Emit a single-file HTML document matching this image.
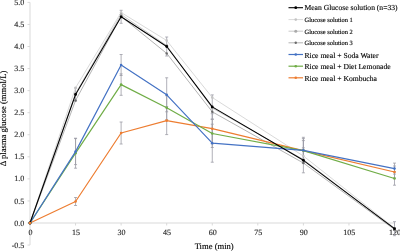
<!DOCTYPE html>
<html><head><meta charset="utf-8"><style>
html,body{margin:0;padding:0;background:#fff;}
svg{display:block;filter:blur(0.3px);}
text{font-family:"Liberation Serif",serif;fill:#000;text-rendering:geometricPrecision;stroke:#000;stroke-width:0.22px;stroke-opacity:0.6;}
.tk{font-size:8px;fill:#262626;stroke:#262626;}
</style></head><body>
<svg width="400" height="251" viewBox="0 0 400 251">
<line x1="30.0" y1="2.4" x2="30.0" y2="245.06" stroke="#d9d9d9" stroke-width="1"/>
<line x1="30.0" y1="223.0" x2="394.5" y2="223.0" stroke="#d9d9d9" stroke-width="1"/>
<line x1="27.5" y1="2.40" x2="30.0" y2="2.40" stroke="#d9d9d9" stroke-width="1"/>
<text x="24.3" y="5.00" text-anchor="end" class="tk">5.0</text>
<line x1="27.5" y1="24.46" x2="30.0" y2="24.46" stroke="#d9d9d9" stroke-width="1"/>
<text x="24.3" y="27.06" text-anchor="end" class="tk">4.5</text>
<line x1="27.5" y1="46.52" x2="30.0" y2="46.52" stroke="#d9d9d9" stroke-width="1"/>
<text x="24.3" y="49.12" text-anchor="end" class="tk">4.0</text>
<line x1="27.5" y1="68.58" x2="30.0" y2="68.58" stroke="#d9d9d9" stroke-width="1"/>
<text x="24.3" y="71.18" text-anchor="end" class="tk">3.5</text>
<line x1="27.5" y1="90.64" x2="30.0" y2="90.64" stroke="#d9d9d9" stroke-width="1"/>
<text x="24.3" y="93.24" text-anchor="end" class="tk">3.0</text>
<line x1="27.5" y1="112.70" x2="30.0" y2="112.70" stroke="#d9d9d9" stroke-width="1"/>
<text x="24.3" y="115.30" text-anchor="end" class="tk">2.5</text>
<line x1="27.5" y1="134.76" x2="30.0" y2="134.76" stroke="#d9d9d9" stroke-width="1"/>
<text x="24.3" y="137.36" text-anchor="end" class="tk">2.0</text>
<line x1="27.5" y1="156.82" x2="30.0" y2="156.82" stroke="#d9d9d9" stroke-width="1"/>
<text x="24.3" y="159.42" text-anchor="end" class="tk">1.5</text>
<line x1="27.5" y1="178.88" x2="30.0" y2="178.88" stroke="#d9d9d9" stroke-width="1"/>
<text x="24.3" y="181.48" text-anchor="end" class="tk">1.0</text>
<line x1="27.5" y1="200.94" x2="30.0" y2="200.94" stroke="#d9d9d9" stroke-width="1"/>
<text x="24.3" y="203.54" text-anchor="end" class="tk">0.5</text>
<line x1="27.5" y1="223.00" x2="30.0" y2="223.00" stroke="#d9d9d9" stroke-width="1"/>
<text x="24.3" y="225.60" text-anchor="end" class="tk">0.0</text>
<line x1="27.5" y1="245.06" x2="30.0" y2="245.06" stroke="#d9d9d9" stroke-width="1"/>
<text x="24.3" y="247.66" text-anchor="end" class="tk">-0.5</text>
<line x1="30.00" y1="223.0" x2="30.00" y2="225.5" stroke="#d9d9d9" stroke-width="1"/>
<text x="30.40" y="234.8" text-anchor="middle" class="tk">0</text>
<line x1="75.56" y1="223.0" x2="75.56" y2="225.5" stroke="#d9d9d9" stroke-width="1"/>
<text x="75.96" y="234.8" text-anchor="middle" class="tk">15</text>
<line x1="121.12" y1="223.0" x2="121.12" y2="225.5" stroke="#d9d9d9" stroke-width="1"/>
<text x="121.53" y="234.8" text-anchor="middle" class="tk">30</text>
<line x1="166.69" y1="223.0" x2="166.69" y2="225.5" stroke="#d9d9d9" stroke-width="1"/>
<text x="167.09" y="234.8" text-anchor="middle" class="tk">45</text>
<line x1="212.25" y1="223.0" x2="212.25" y2="225.5" stroke="#d9d9d9" stroke-width="1"/>
<text x="212.65" y="234.8" text-anchor="middle" class="tk">60</text>
<line x1="257.81" y1="223.0" x2="257.81" y2="225.5" stroke="#d9d9d9" stroke-width="1"/>
<text x="258.21" y="234.8" text-anchor="middle" class="tk">75</text>
<line x1="303.38" y1="223.0" x2="303.38" y2="225.5" stroke="#d9d9d9" stroke-width="1"/>
<text x="303.77" y="234.8" text-anchor="middle" class="tk">90</text>
<line x1="348.94" y1="223.0" x2="348.94" y2="225.5" stroke="#d9d9d9" stroke-width="1"/>
<text x="349.34" y="234.8" text-anchor="middle" class="tk">105</text>
<line x1="394.50" y1="223.0" x2="394.50" y2="225.5" stroke="#d9d9d9" stroke-width="1"/>
<text x="394.90" y="234.8" text-anchor="middle" class="tk">120</text>
<path d="M75.56 88.00V101.00M74.06 88.00h3M74.06 101.00h3" stroke="#9c9ca6" stroke-width="0.8" fill="none"/>
<path d="M121.12 10.30V23.30M119.62 10.30h3M119.62 23.30h3" stroke="#9c9ca6" stroke-width="0.8" fill="none"/>
<path d="M166.69 37.00V56.00M165.19 37.00h3M165.19 56.00h3" stroke="#9c9ca6" stroke-width="0.8" fill="none"/>
<path d="M212.25 94.90V118.90M210.75 94.90h3M210.75 118.90h3" stroke="#9c9ca6" stroke-width="0.8" fill="none"/>
<path d="M303.38 147.80V172.80M301.88 147.80h3M301.88 172.80h3" stroke="#9c9ca6" stroke-width="0.8" fill="none"/>
<path d="M394.50 221.70V235.70M393.00 221.70h3M393.00 235.70h3" stroke="#9c9ca6" stroke-width="0.8" fill="none"/>
<path d="M75.56 138.60V164.60M74.06 138.60h3M74.06 164.60h3" stroke="#9c9ca6" stroke-width="0.8" fill="none"/>
<path d="M121.12 54.50V75.50M119.62 54.50h3M119.62 75.50h3" stroke="#9c9ca6" stroke-width="0.8" fill="none"/>
<path d="M166.69 77.80V111.80M165.19 77.80h3M165.19 111.80h3" stroke="#9c9ca6" stroke-width="0.8" fill="none"/>
<path d="M212.25 124.20V162.20M210.75 124.20h3M210.75 162.20h3" stroke="#9c9ca6" stroke-width="0.8" fill="none"/>
<path d="M303.38 137.30V163.30M301.88 137.30h3M301.88 163.30h3" stroke="#9c9ca6" stroke-width="0.8" fill="none"/>
<path d="M394.50 163.10V174.10M393.00 163.10h3M393.00 174.10h3" stroke="#9c9ca6" stroke-width="0.8" fill="none"/>
<path d="M75.56 138.20V168.20M74.06 138.20h3M74.06 168.20h3" stroke="#9c9ca6" stroke-width="0.8" fill="none"/>
<path d="M121.12 73.90V95.30M119.62 73.90h3M119.62 95.30h3" stroke="#9c9ca6" stroke-width="0.8" fill="none"/>
<path d="M166.69 95.70V119.70M165.19 95.70h3M165.19 119.70h3" stroke="#9c9ca6" stroke-width="0.8" fill="none"/>
<path d="M212.25 119.50V147.50M210.75 119.50h3M210.75 147.50h3" stroke="#9c9ca6" stroke-width="0.8" fill="none"/>
<path d="M303.38 140.60V160.60M301.88 140.60h3M301.88 160.60h3" stroke="#9c9ca6" stroke-width="0.8" fill="none"/>
<path d="M394.50 171.80V185.20M393.00 171.80h3M393.00 185.20h3" stroke="#9c9ca6" stroke-width="0.8" fill="none"/>
<path d="M75.56 197.50V205.50M74.06 197.50h3M74.06 205.50h3" stroke="#9c9ca6" stroke-width="0.8" fill="none"/>
<path d="M121.12 122.00V144.00M119.62 122.00h3M119.62 144.00h3" stroke="#9c9ca6" stroke-width="0.8" fill="none"/>
<path d="M166.69 106.60V134.60M165.19 106.60h3M165.19 134.60h3" stroke="#9c9ca6" stroke-width="0.8" fill="none"/>
<path d="M212.25 113.70V143.70M210.75 113.70h3M210.75 143.70h3" stroke="#9c9ca6" stroke-width="0.8" fill="none"/>
<path d="M303.38 138.60V162.60M301.88 138.60h3M301.88 162.60h3" stroke="#9c9ca6" stroke-width="0.8" fill="none"/>
<path d="M394.50 166.00V178.00M393.00 166.00h3M393.00 178.00h3" stroke="#9c9ca6" stroke-width="0.8" fill="none"/>
<polyline points="30.00,223.00 75.56,87.80 121.12,12.50 166.69,40.50 212.25,97.50 303.38,156.00 394.50,228.00" fill="none" stroke="#cfcfcf" stroke-width="0.8" stroke-linejoin="round"/>
<circle cx="30.00" cy="223.00" r="1.3" fill="#c4c4c4"/>
<circle cx="75.56" cy="87.80" r="1.3" fill="#c4c4c4"/>
<circle cx="121.12" cy="12.50" r="1.3" fill="#c4c4c4"/>
<circle cx="166.69" cy="40.50" r="1.3" fill="#c4c4c4"/>
<circle cx="212.25" cy="97.50" r="1.3" fill="#c4c4c4"/>
<circle cx="303.38" cy="156.00" r="1.3" fill="#c4c4c4"/>
<circle cx="394.50" cy="228.00" r="1.3" fill="#c4c4c4"/>
<polyline points="30.00,223.00 75.56,93.50 121.12,14.50 166.69,45.50 212.25,108.00 303.38,159.50 394.50,228.80" fill="none" stroke="#bdbdbd" stroke-width="0.8" stroke-linejoin="round"/>
<circle cx="30.00" cy="223.00" r="1.5" fill="#aaaaaa"/>
<circle cx="75.56" cy="93.50" r="1.5" fill="#aaaaaa"/>
<circle cx="121.12" cy="14.50" r="1.5" fill="#aaaaaa"/>
<circle cx="166.69" cy="45.50" r="1.5" fill="#aaaaaa"/>
<circle cx="212.25" cy="108.00" r="1.5" fill="#aaaaaa"/>
<circle cx="303.38" cy="159.50" r="1.5" fill="#aaaaaa"/>
<circle cx="394.50" cy="228.80" r="1.5" fill="#aaaaaa"/>
<polyline points="30.00,223.00 75.56,100.50 121.12,16.50 166.69,53.40 212.25,111.80 303.38,163.00 394.50,229.50" fill="none" stroke="#a0a0a0" stroke-width="0.8" stroke-linejoin="round"/>
<circle cx="30.00" cy="223.00" r="1.2" fill="#6a6a6a"/>
<circle cx="75.56" cy="100.50" r="1.2" fill="#6a6a6a"/>
<circle cx="121.12" cy="16.50" r="1.2" fill="#6a6a6a"/>
<circle cx="166.69" cy="53.40" r="1.2" fill="#6a6a6a"/>
<circle cx="212.25" cy="111.80" r="1.2" fill="#6a6a6a"/>
<circle cx="303.38" cy="163.00" r="1.2" fill="#6a6a6a"/>
<circle cx="394.50" cy="229.50" r="1.2" fill="#6a6a6a"/>
<polyline points="30.00,223.00 75.56,201.50 121.12,133.00 166.69,120.60 212.25,128.70 303.38,150.60 394.50,172.00" fill="none" stroke="#ed7d31" stroke-width="1.2" stroke-linejoin="round"/>
<circle cx="30.00" cy="223.00" r="1.3" fill="#ed7d31"/>
<circle cx="75.56" cy="201.50" r="1.3" fill="#ed7d31"/>
<circle cx="121.12" cy="133.00" r="1.3" fill="#ed7d31"/>
<circle cx="166.69" cy="120.60" r="1.3" fill="#ed7d31"/>
<circle cx="212.25" cy="128.70" r="1.3" fill="#ed7d31"/>
<circle cx="303.38" cy="150.60" r="1.3" fill="#ed7d31"/>
<circle cx="394.50" cy="172.00" r="1.3" fill="#ed7d31"/>
<polyline points="30.00,223.00 75.56,153.20 121.12,84.60 166.69,107.70 212.25,133.50 303.38,150.60 394.50,178.50" fill="none" stroke="#70ad47" stroke-width="1.2" stroke-linejoin="round"/>
<circle cx="30.00" cy="223.00" r="1.3" fill="#70ad47"/>
<circle cx="75.56" cy="153.20" r="1.3" fill="#70ad47"/>
<circle cx="121.12" cy="84.60" r="1.3" fill="#70ad47"/>
<circle cx="166.69" cy="107.70" r="1.3" fill="#70ad47"/>
<circle cx="212.25" cy="133.50" r="1.3" fill="#70ad47"/>
<circle cx="303.38" cy="150.60" r="1.3" fill="#70ad47"/>
<circle cx="394.50" cy="178.50" r="1.3" fill="#70ad47"/>
<polyline points="30.00,223.00 75.56,151.60 121.12,65.00 166.69,94.80 212.25,143.20 303.38,150.30 394.50,168.60" fill="none" stroke="#4472c4" stroke-width="1.2" stroke-linejoin="round"/>
<circle cx="30.00" cy="223.00" r="1.3" fill="#4472c4"/>
<circle cx="75.56" cy="151.60" r="1.3" fill="#4472c4"/>
<circle cx="121.12" cy="65.00" r="1.3" fill="#4472c4"/>
<circle cx="166.69" cy="94.80" r="1.3" fill="#4472c4"/>
<circle cx="212.25" cy="143.20" r="1.3" fill="#4472c4"/>
<circle cx="303.38" cy="150.30" r="1.3" fill="#4472c4"/>
<circle cx="394.50" cy="168.60" r="1.3" fill="#4472c4"/>
<polyline points="30.00,223.00 75.56,94.50 121.12,16.80 166.69,46.50 212.25,106.90 303.38,160.30 394.50,228.70" fill="none" stroke="#000000" stroke-width="1.05" stroke-linejoin="round"/>
<circle cx="30.00" cy="223.00" r="1.4" fill="#000"/>
<circle cx="75.56" cy="94.50" r="1.4" fill="#000"/>
<circle cx="121.12" cy="16.80" r="1.4" fill="#000"/>
<circle cx="166.69" cy="46.50" r="1.4" fill="#000"/>
<circle cx="212.25" cy="106.90" r="1.4" fill="#000"/>
<circle cx="303.38" cy="160.30" r="1.4" fill="#000"/>
<circle cx="394.50" cy="228.70" r="1.4" fill="#000"/>
<circle cx="30.00" cy="223.00" r="1.3" fill="#ed7d31"/>
<line x1="288.5" y1="7.7" x2="303" y2="7.7" stroke="#000000" stroke-width="1.1"/>
<circle cx="295.75" cy="7.70" r="1.4" fill="#000"/>
<text x="304.5" y="10.20" style="font-size:7.6px">Mean Glucose solution (n=33)</text>
<line x1="288.5" y1="19.6" x2="303" y2="19.6" stroke="#cfcfcf" stroke-width="0.8"/>
<circle cx="295.75" cy="19.60" r="1.3" fill="#c4c4c4"/>
<text x="304.5" y="21.90" style="font-size:6.45px">Glucose solution 1</text>
<line x1="288.5" y1="31.2" x2="303" y2="31.2" stroke="#bdbdbd" stroke-width="0.8"/>
<circle cx="295.75" cy="31.20" r="1.5" fill="#aaaaaa"/>
<text x="304.5" y="33.50" style="font-size:6.45px">Glucose solution 2</text>
<line x1="288.5" y1="42.8" x2="303" y2="42.8" stroke="#a0a0a0" stroke-width="0.8"/>
<circle cx="295.75" cy="42.80" r="1.2" fill="#6a6a6a"/>
<text x="304.5" y="45.10" style="font-size:6.45px">Glucose solution 3</text>
<line x1="288.5" y1="54.5" x2="303" y2="54.5" stroke="#4472c4" stroke-width="1.2"/>
<circle cx="295.75" cy="54.50" r="1.3" fill="#4472c4"/>
<text x="304.5" y="57.70" style="font-size:7.65px">Rice meal + Soda Water</text>
<line x1="288.5" y1="66.2" x2="303" y2="66.2" stroke="#70ad47" stroke-width="1.2"/>
<circle cx="295.75" cy="66.20" r="1.3" fill="#70ad47"/>
<text x="304.5" y="69.40" style="font-size:7.65px">Rice meal + Diet Lemonade</text>
<line x1="288.5" y1="77.8" x2="303" y2="77.8" stroke="#ed7d31" stroke-width="1.2"/>
<circle cx="295.75" cy="77.80" r="1.3" fill="#ed7d31"/>
<text x="304.5" y="81.00" style="font-size:7.65px">Rice meal + Kombucha</text>
<text x="214.2" y="249.1" text-anchor="middle" style="font-size:8.6px">Time (min)</text>
<text transform="translate(6.0,118.4) rotate(-90)" text-anchor="middle" style="font-size:8.6px">Δ plasma glucose (mmol/L)</text>
</svg>
</body></html>
